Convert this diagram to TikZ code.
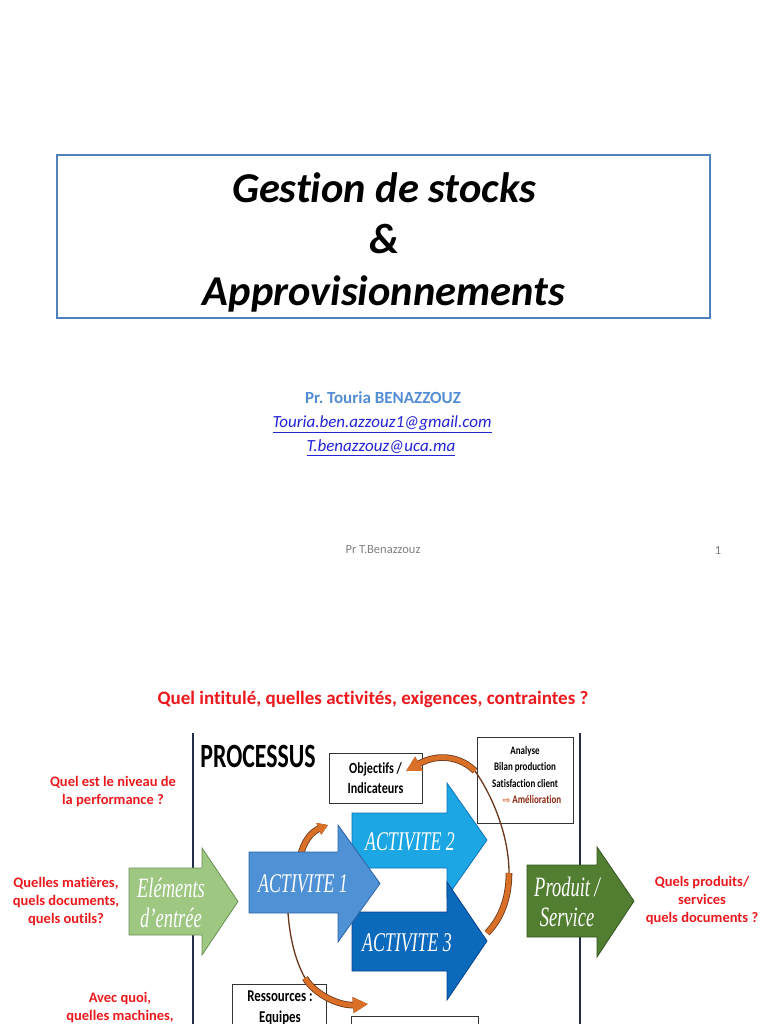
\documentclass[tikz,border=0pt]{standalone}
\usepackage{fontspec}
\setmainfont{Carlito}[Ligatures=NoCommon]
\newfontfamily\etroite{Carlito}[FakeStretch=0.78, Ligatures=NoCommon]
\newfontfamily\procfont{Carlito}[FakeStretch=0.7, Ligatures=NoCommon]
\newfontfamily\flechefont{Liberation Serif}[FakeStretch=0.66]
\newfontfamily\symbfont{DejaVu Sans}
\usetikzlibrary{arrows.meta}
\definecolor{BleuCadre}{RGB}{79,129,189}
\definecolor{BleuAuteur}{RGB}{84,141,212}
\definecolor{BleuLien}{RGB}{35,35,215}
\definecolor{GrisPied}{RGB}{128,128,128}
\definecolor{RougeQ}{RGB}{235,25,30}
\definecolor{TraitProc}{RGB}{35,45,70}
\definecolor{VertClair}{RGB}{158,199,130}
\definecolor{VertClairBord}{RGB}{105,145,85}
\definecolor{VertFonce}{RGB}{82,126,50}
\definecolor{VertFonceBord}{RGB}{50,85,30}
\definecolor{BleuActUn}{RGB}{78,145,212}
\definecolor{BleuActUnBord}{RGB}{45,100,165}
\definecolor{BleuActDeux}{RGB}{28,166,228}
\definecolor{BleuActDeuxBord}{RGB}{15,115,185}
\definecolor{BleuActTrois}{RGB}{12,106,188}
\definecolor{BleuActTroisBord}{RGB}{8,65,135}
\definecolor{OrangeArc}{RGB}{218,112,40}
\definecolor{BrunArc}{RGB}{105,55,25}
\definecolor{RougeAmel}{RGB}{140,40,20}
\definecolor{OrangeSymb}{RGB}{205,95,45}
\tikzset{
  titrebox/.style={draw=BleuCadre, line width=1.2pt, minimum width=653pt, minimum height=163pt},
  titretxt/.style={font=\fontsize{42.5}{51.5}\selectfont\bfseries\itshape, align=center},
  auteur/.style={font=\fontsize{17}{20}\selectfont\bfseries, text=BleuAuteur},
  lien/.style={font=\fontsize{17}{20}\selectfont\itshape, text=BleuLien},
  pied/.style={font=\fontsize{12.5}{14}\selectfont, text=GrisPied},
  question/.style={font=\fontsize{14.5}{18}\selectfont\bfseries, text=RougeQ, align=center},
  questitre/.style={question, font=\fontsize{19}{22}\selectfont\bfseries},
  trait/.style={draw=TraitProc, line width=1.3pt},
  processus/.style={font=\fontsize{34}{40}\selectfont\procfont\bfseries},
  cadre/.style={draw=black!80, line width=0.9pt, fill=white},
  cadretxt/.style={font=\fontsize{#1}{1.4\dimexpr#1pt\relax}\selectfont\etroite\bfseries, align=center},
  fleche/.style={line width=0.8pt, line join=miter},
  flechetxt/.style={font=\fontsize{#1}{30}\selectfont\flechefont\itshape, text=white, align=center},
  flechetxt/.default=28,
  filbrun/.style={draw=BrunArc, line width=1.3pt},
  ruban/.style={draw=OrangeArc, line width=5pt, preaction={draw=BrunArc, line width=6.6pt}},
  pointe/.style={-{Triangle[length=15pt, width=15pt]}},
  petitepointe/.style={-{Triangle[length=10pt, width=12pt]}},
}
\begin{document}
\begin{tikzpicture}[x=1pt, y=-1pt, every node/.style={inner sep=0pt, outer sep=0pt}]
  \useasboundingbox (0,0) rectangle (768,1024);
  \clip (0,0) rectangle (768,1024);
  \fill[white] (0,0) rectangle (768,1024);

  % ---- diapositive 1 ----
  \node[titrebox] (titre) at (383.5,236.5) {};
  \node[titretxt] (titretxt) at (384,242) {Gestion de stocks\\ \&\\ Approvisionnements};
  \node[auteur] (auteur) at (383,398) {Pr.\ Touria BENAZZOUZ};
  \node[lien] (mail1) at (382,424) {\underline{Touria.ben.azzouz1@gmail.com}};
  \node[lien] (mail2) at (381,448) {\underline{T.benazzouz@uca.ma}};
  \node[pied] (pied) at (383,550) {Pr T.Benazzouz};
  \node[pied] (num) at (718,550) {1};

  % ---- diapositive 2 ----
  \node[questitre] (qtitre) at (373,699) {Quel intitulé, quelles activités, exigences, contraintes ?};
  \draw[trait] (193,733) -- (193,1024);
  \draw[trait] (580,733) -- (580,1024);
  \node[processus] (proc) at (258,756) {PROCESSUS};

  \node[question] (qperf) at (113,792) {Quel est le niveau de\\la performance ?};
  \node[question] (qmat) at (66,902) {Quelles matières,\\quels documents,\\quels outils?};
  \node[question] (qavec) at (120,1008) {Avec quoi,\\quelles machines,};
  \node[question] (qprod) at (702,901) {Quels produits/\\services\\quels documents ?};

  \node[cadre, minimum width=93pt, minimum height=50pt] (obj) at (375.5,778) {};
  \node[cadretxt=15.5] (objtxt) at (obj.center) {Objectifs /\\[-2pt]Indicateurs};
  \node[cadre, minimum width=96pt, minimum height=86pt] (ana) at (525,780) {};
  \node[cadretxt=11.5] (anatxt) at (525,775) {Analyse\\Bilan production\\Satisfaction client\\
    \hspace*{14pt}{\symbfont\color{OrangeSymb}\scalebox{0.8}{⇨}} \textcolor{RougeAmel}{Amélioration}};
  \node[cadre, minimum width=94pt, minimum height=60pt, anchor=north] (res) at (279.5,984) {};
  \node[cadretxt=16.5] (restxt) at (280,1008) {Ressources :\\[-2pt]Equipes};
  \node[cadre, minimum width=127pt, minimum height=40pt, anchor=north west] (meth) at (351,1016) {};

  % petit arc derriere l'activite 1
  \coordinate (a1haut) at (300,858);
  \coordinate (a2gauche) at (328,825);
  \draw[ruban, petitepointe] (a1haut) .. controls (303,842) and (311,832) .. (a2gauche);

  % fleches du processus
  \filldraw[fleche, fill=VertClair, draw=VertClairBord]
    (129,868) -- (202,868) -- (202,848) -- (238,901.5) -- (202,955) -- (202,935) -- (129,935) -- cycle;
  \node[flechetxt] (elem) at (171,903) {Eléments\\d’entrée};
  \filldraw[fleche, fill=BleuActDeux, draw=BleuActDeuxBord]
    (352,813) -- (447,813) -- (447,783) -- (487,840) -- (447,897) -- (447,868) -- (352,868) -- cycle;
  \filldraw[fleche, fill=BleuActTrois, draw=BleuActTroisBord]
    (352,912) -- (447,912) -- (447,882) -- (487,941) -- (447,1000) -- (447,971) -- (352,971) -- cycle;
  \filldraw[fleche, fill=BleuActUn, draw=BleuActUnBord]
    (249,852) -- (338,852) -- (338,825) -- (380,883.5) -- (338,942) -- (338,913) -- (249,913) -- cycle;
  \node[flechetxt=27] (act2) at (410,842) {ACTIVITE 2};
  \node[flechetxt=27] (act3) at (407,943) {ACTIVITE 3};
  \node[flechetxt=27] (act1) at (303,884) {ACTIVITE 1};
  \filldraw[fleche, fill=VertFonce, draw=VertFonceBord]
    (527,865) -- (597,865) -- (597,847) -- (634,901) -- (597,957) -- (597,937) -- (527,937) -- cycle;
  \node[flechetxt] (prod) at (567,902) {Produit /\\Service};

  % boucle d'amelioration
  \coordinate (a3sortie) at (487,933);
  \coordinate (arcdroit) at (509,873);
  \coordinate (archaut) at (475,771);
  \coordinate (objcible) at (406,771);
  \draw[ruban] (a3sortie) .. controls (500,920) and (509,900) .. (arcdroit);
  \draw[filbrun] (arcdroit) .. controls (509,835) and (492,795) .. (archaut);
  \draw[ruban, pointe] (archaut) .. controls (462,758) and (440,752) .. (objcible);

  % arc vers les moyens
  \coordinate (a1bas) at (288,913);
  \coordinate (basmilieu) at (305,978);
  \coordinate (methcible) at (368,1004);
  \draw[filbrun] (a1bas) .. controls (290,940) and (296,962) .. (basmilieu);
  \draw[ruban, pointe] (basmilieu) .. controls (315,995) and (340,1006) .. (methcible);
\end{tikzpicture}
\end{document}
